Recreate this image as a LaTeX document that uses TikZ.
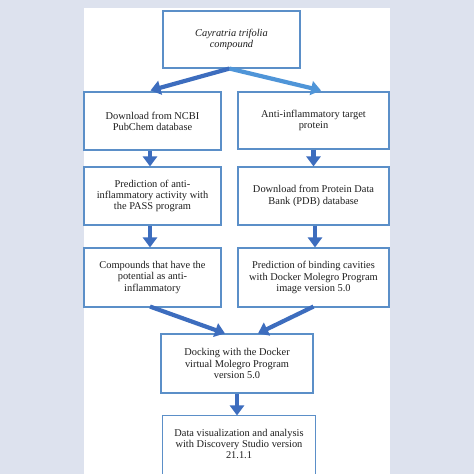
\documentclass[tikz,border=0pt]{standalone}
\usepackage{fontspec}
\setmainfont{Liberation Serif}
\usetikzlibrary{arrows.meta,calc}
\definecolor{bgc}{HTML}{DDE2EE}
\definecolor{boxc}{HTML}{5B8FC8}
\definecolor{arrc}{HTML}{3D6DBE}
\definecolor{arrl}{HTML}{4F95D8}
\definecolor{txtc}{HTML}{1E1E1E}
\tikzset{
  box/.style={draw=boxc, line width=1.1pt, fill=white, align=center, inner sep=2pt,
    text=txtc, font=\fontsize{10.4}{11.2}\selectfont},
  arr/.style={draw=arrc, line width=4.2pt, -{Triangle[width=14pt,length=10pt]}},
}
\begin{document}
\begin{tikzpicture}[x=1pt,y=-1pt]
\useasboundingbox (0,0) rectangle (474,474);
\fill[bgc] (0,0) rectangle (474,474);
\fill[white] (84,8) rectangle (390,474);
\begin{scope}
\clip (0,0) rectangle (474,474);
\node[box, minimum width=137pt, minimum height=57pt] (top) at (231.5,39.5) {\textit{Cayratria trifolia}\\\textit{compound}};
\node[box, minimum width=137pt, minimum height=58pt] (l1) at (152.5,121) {Download from NCBI\\PubChem database};
\node[box, minimum width=151pt, minimum height=57pt] (r1) at (313.5,120.5) {Anti-inflammatory target\\protein};
\node[box, minimum width=137pt, minimum height=58pt] (l2) at (152.5,196) {Prediction of anti-\\inflammatory activity with\\the PASS program};
\node[box, minimum width=151pt, minimum height=58pt] (r2) at (313.5,196) {Download from Protein Data\\Bank (PDB) database};
\node[box, minimum width=137pt, minimum height=59pt] (l3) at (152.5,277.5) {Compounds that have the\\potential as anti-\\inflammatory};
\node[box, minimum width=151pt, minimum height=59pt] (r3) at (313.5,277.5) {Prediction of binding cavities\\with Docker Molegro Program\\image version 5.0};
\node[box, minimum width=152pt, minimum height=59pt] (dock) at (237,363.5) {Docking with the Docker\\virtual Molegro Program\\version 5.0};
\node[box, draw=none, fill=none, minimum width=152pt, minimum height=56pt] (last) at (239,444) {Data visualization and analysis\\with Discovery Studio version\\21.1.1};
\draw[draw=boxc, line width=1.2pt] (last.north west) rectangle ($(last.south east)+(0,12)$);
\end{scope}
\draw[arr] ($(top.south)+(-2,0)$) -- ($(l1.north)+(-2,-1)$);
\draw[arr, draw=arrl] ($(top.south)+(-2,0)$) -- ($(r1.north)+(7.5,-1)$);
\draw[arr] ($(l1.south)+(-2.5,0)$) -- ($(l2.north)+(-2.5,0)$);
\draw[arr] ($(r1.south)+(0,0)$) -- ($(r2.north)+(0,0)$);
\draw[arr] ($(l2.south)+(-2.5,0)$) -- ($(l3.north)+(-2.5,0)$);
\draw[arr] ($(r2.south)+(1.5,0)$) -- ($(r3.north)+(1.5,0)$);
\draw[arr] ($(l3.south)+(-2.5,-1)$) -- ($(dock.north)+(-12,0)$);
\draw[arr] ($(r3.south)+(0,-1)$) -- ($(dock.north)+(21,0)$);
\draw[arr] ($(dock.south)+(0,0)$) -- ($(last.north)+(-2,0)$);
\end{tikzpicture}
\end{document}
